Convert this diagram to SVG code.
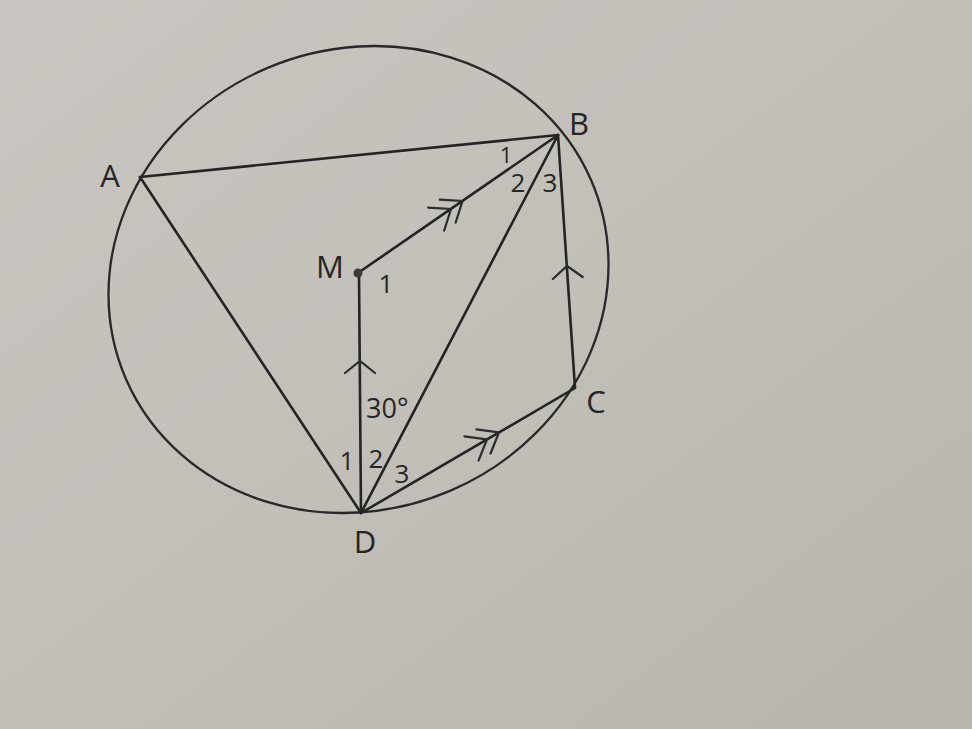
<svg xmlns="http://www.w3.org/2000/svg" xmlns:xlink="http://www.w3.org/1999/xlink" width="972" height="729" viewBox="0 0 972 729">
<defs>
<linearGradient id="paper" x1="0" y1="0" x2="1" y2="1">
<stop offset="0" stop-color="#c9c5c0"/>
<stop offset="0.5" stop-color="#c2beb8"/>
<stop offset="1" stop-color="#b8b4ae"/>
</linearGradient>
<path id="chev2" d="M-18,-14 L0,0 L-18,14"/>
<path id="chev1" d="M-12,-15 L0,0 L-12,15"/>
<style>
.ln{stroke:#242424;stroke-width:2.6;fill:none;stroke-linecap:round;stroke-linejoin:round}
.circ{stroke:#282828;stroke-width:2.3;fill:none}
.mk{stroke:#2c2c2c;stroke-width:2.2;fill:none;stroke-linecap:round;stroke-linejoin:miter}
.lbl{font-family:"Open Sans","Liberation Sans",sans-serif;font-size:31px;fill:#262626;text-anchor:middle}
.num{font-family:"Open Sans","Liberation Sans",sans-serif;font-size:26px;fill:#262626;text-anchor:middle}
</style>
</defs>
<rect x="0" y="0" width="972" height="729" fill="url(#paper)"/>
<g id="circle">
<ellipse class="circ" cx="0" cy="0" rx="250" ry="233" transform="translate(358.5,279.5) matrix(1,-0.06,0,1,0,0)"/>
</g>
<g id="connectors">
<line class="ln" x1="140" y1="177" x2="558" y2="135"/>
<line class="ln" x1="140" y1="177" x2="361" y2="513"/>
<line class="ln" x1="358" y1="273" x2="558" y2="135"/>
<line class="ln" x1="359" y1="273" x2="361" y2="513"/>
<line class="ln" x1="361" y1="513" x2="558" y2="135"/>
<line class="ln" x1="361" y1="513" x2="575" y2="388"/>
<line class="ln" x1="575" y1="388" x2="558" y2="135"/>
<g id="marks">
<use xlink:href="#chev2" class="mk" transform="translate(451,209) rotate(-34.6)"/>
<use xlink:href="#chev2" class="mk" transform="translate(462.5,201) rotate(-34.6)"/>
<use xlink:href="#chev2" class="mk" transform="translate(487,439.4) rotate(-30.3)"/>
<use xlink:href="#chev2" class="mk" transform="translate(499,432.3) rotate(-30.3)"/>
<use xlink:href="#chev1" class="mk" transform="translate(360,361) rotate(-90)"/>
<use xlink:href="#chev1" class="mk" transform="translate(567,266) rotate(-93.8)"/>
</g>
</g>
<g id="node-A"><text class="lbl" x="110" y="187">A</text></g>
<g id="node-B"><text class="lbl" x="579" y="135">B</text>
<text class="num" x="506" y="163" style="font-size:22px">1</text>
<text class="num" x="518" y="192">2</text>
<text class="num" x="550" y="192">3</text></g>
<g id="node-C"><text class="lbl" x="596" y="413">C</text></g>
<g id="node-D"><text class="lbl" x="365" y="553">D</text>
<text class="num" x="347" y="470">1</text>
<text class="num" x="376" y="468">2</text>
<text class="num" x="402" y="483">3</text>
<text class="num" x="366" y="418" style="text-anchor:start;font-size:27px">30°</text></g>
<g id="node-M"><circle cx="358" cy="273" r="4.5" fill="#3a3a3a"/>
<text class="lbl" x="330" y="278">M</text>
<text class="num" x="386" y="293">1</text></g>
</svg>
